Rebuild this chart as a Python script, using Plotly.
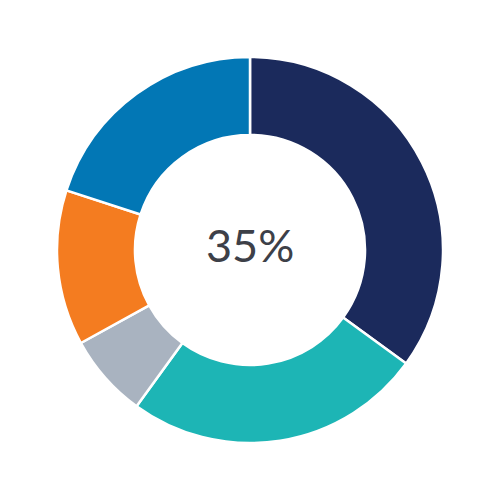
import plotly.graph_objects as go

labels = ['A', 'B', 'C', 'D', 'E']
values = [35, 25, 7, 13, 20]
colors = ['#1b2a5c', '#1db5b5', '#a9b3c0', '#f47c20', '#0277b5']
center_text = '35%'

fig = go.Figure(
    go.Pie(
        labels=labels,
        values=values,
        hole=0.596,
        sort=False,
        direction='clockwise',
        rotation=0,
        textinfo='none',
        hoverinfo='label+percent',
        marker=dict(colors=colors, line=dict(color='white', width=2.5)),
    )
)

fig.add_annotation(
    text=center_text,
    x=0.5, y=0.512, xref='paper', yref='paper',
    showarrow=False,
    font=dict(family='Lato', size=45, color='#3d4048'),
)

# page body adds an 8px offset, so shift the plot area up/left to compensate
fig.update_layout(
    width=500,
    height=500,
    showlegend=False,
    margin=dict(l=49, r=65, t=49, b=65),
    paper_bgcolor='white',
    plot_bgcolor='white',
)

fig.write_html("out.html")
